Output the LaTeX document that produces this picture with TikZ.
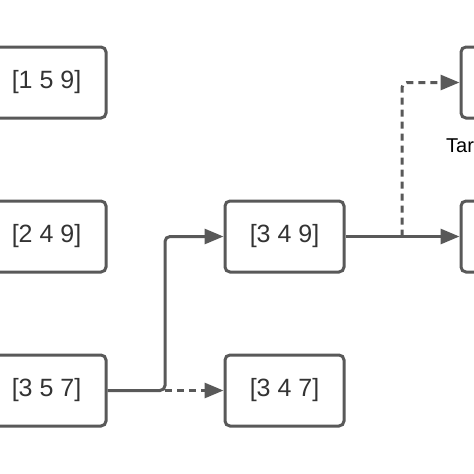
\documentclass[tikz,border=0pt]{standalone}
\usepackage{fontspec}
\setmainfont{Liberation Sans}
\usetikzlibrary{arrows.meta}
\definecolor{lc}{HTML}{595959}
\definecolor{tc}{HTML}{333333}
\tikzset{
  box/.style={draw=lc, line width=3pt, rounded corners=5pt, minimum width=119pt, minimum height=71pt, inner sep=0pt, text=tc, font=\fontsize{25}{30}\selectfont},
  conn/.style={draw=lc, line width=3pt, rounded corners=5pt, -{Triangle[length=19pt,width=15pt]}},
  dconn/.style={conn, dash pattern=on 7pt off 5pt},
}
\begin{document}
\begin{tikzpicture}[x=1pt,y=-1pt]
\useasboundingbox (0,0) rectangle (474,474);
\clip (0,0) rectangle (474,474);
\fill[white] (0,0) rectangle (474,474);
\node[box] (a) at (46.5,82.5) {[1 5 9]};
\node[box] (b) at (46.5,236.5) {[2 4 9]};
\node[box] (c) at (46.5,390.5) {[3 5 7]};
\node[box] (d) at (284.5,236.5) {[3 4 9]};
\node[box] (e) at (284.5,390.5) {[3 4 7]};
\node[box] (f) at (520.5,82.5) {};
\node[box] (g) at (520.5,236.5) {};
\node[anchor=west, text=black, font=\fontsize{20}{24}\selectfont, inner sep=0pt] (t) at (446,148) {Target};
\coordinate (j1) at (165,390.5);
\coordinate (j2) at (402,236.5);
\draw[conn] (c.east) -- (j1) |- (d.west);
\draw[dconn] (j1) -- (e.west);
\draw[conn] (d.east) -- (g.west);
\draw[dconn] (j2) |- (f.west);
\end{tikzpicture}
\end{document}
